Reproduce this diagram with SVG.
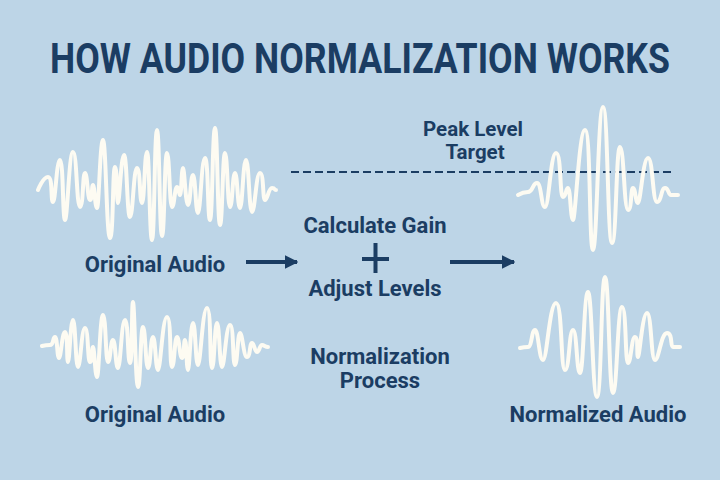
<svg xmlns="http://www.w3.org/2000/svg" width="720" height="480" viewBox="0 0 720 480">
<defs>
<style>
.t{font-family:Roboto,"Liberation Sans",sans-serif;font-weight:700;fill:#1b3d63;text-anchor:middle}
.lbl{font-size:22px}
.sm{font-size:20.5px}
.wave{fill:none;stroke:#fdfbf2;stroke-width:4;stroke-linecap:round;stroke-linejoin:round}
.ln{stroke:#1b3d63;stroke-width:4;fill:none}
</style>
<marker id="ah" viewBox="0 0 10 10" refX="9" refY="5" markerWidth="3.4" markerHeight="4.2" orient="auto" markerUnits="strokeWidth">
<path d="M0 0 L10 5 L0 10 Z" fill="#1b3d63"/>
</marker>
</defs>
<rect width="720" height="480" fill="#bdd5e7"/>
<text class="t" transform="translate(360,73) scale(0.8,1)" x="0" y="0" font-size="43" textLength="775" lengthAdjust="spacingAndGlyphs">HOW AUDIO NORMALIZATION WORKS</text>

<g id="original-top">
<path class="wave" d="M38 190 S43 177 48 177 S50.5 202 53 202 S56.5 160 60 160 S62.5 220 65 220 S69 152 73 152 S76.5 207 80 207 S82.5 173 85 173 S87.5 200 90 200 S91.5 185 93 185 S95 208 97 208 S100 140 103 140 S106.5 238 110 238 S112.5 167 115 167 S116.5 203 118 203 S121 155 124 155 S127 217 130 217 S133.5 168 137 168 S139.5 203 142 203 S144.5 152 147 152 S149.5 240 152 240 S154.5 130 157 130 S159.5 236 162 236 S164.5 153 167 153 S169.5 207 172 207 S174.5 187 177 187 S178.5 195 180 195 S181.5 168 183 168 S185.5 205 188 205 S190.5 175 193 175 S195.5 213 198 213 S201.5 158 205 158 S207.5 220 210 220 S212.5 128 215 128 S217.5 225 220 225 S222.5 153 225 153 S227.5 207 230 207 S232.5 173 235 173 S237.5 208 240 208 S243 160 246 160 S249 212 252 212 S256 173 260 173 S262.5 200 265 200 S268.5 188 272 188 S274 190 276 190"/>
<text class="t lbl" x="155" y="272">Original Audio</text>
</g>

<g id="original-bottom">
<path class="wave" d="M42 346 S46 345 50 345 S52.5 337 55 337 S57 358 59 358 S62 332 65 332 S66.5 362 68 362 S70.5 320 73 320 S75.5 367 78 367 S81.5 328 85 328 S87.5 362 90 362 S91.5 347 93 347 S95 377 97 377 S100 315 103 315 S105.5 362 108 362 S110.5 340 113 340 S115.5 368 118 368 S121.5 320 125 320 S127.5 363 130 363 S131.5 302 133 302 S135.5 387 138 387 S140.5 327 143 327 S145.5 368 148 368 S150.5 337 153 337 S155.5 370 158 370 S162.5 317 167 317 S169.5 367 172 367 S174.5 337 177 337 S179.5 358 182 358 S183.5 340 185 340 S186.5 370 188 370 S190.5 323 193 323 S195.5 365 198 365 S202.5 308 207 308 S209.5 368 212 368 S214.5 323 217 323 S219.5 367 222 367 S226 325 230 325 S232.5 365 235 365 S237.5 333 240 333 S243.5 357 247 357 S249.5 343 252 343 S254.5 352 257 352 S259.5 345 262 345 S265 347 268 347"/>
<text class="t lbl" x="155" y="422">Original Audio</text>
</g>

<g id="process">
<text class="t lbl" x="375" y="233">Calculate Gain</text>
<path class="ln" d="M362 259 H389 M375.5 243 V273"/>
<text class="t lbl" x="375" y="296">Adjust Levels</text>
<text class="t lbl" x="380" y="364">Normalization</text>
<text class="t lbl" x="380" y="388">Process</text>
</g>

<g id="peak-target">
<text class="t sm" x="473" y="136">Peak Level</text>
<text class="t sm" x="475" y="159">Target</text>
<line x1="291" y1="172" x2="673" y2="172" stroke="#1b3d63" stroke-width="2.2" stroke-dasharray="8 4"/>
</g>

<g id="normalized-top">
<path class="wave" d="M518 195 S523 192 528 192 S532.5 183 537 183 S541 207 545 207 S550.5 153 556 153 S559.5 197 563 197 S565.5 188 568 188 S570.5 220 573 220 S579 130 585 130 S589 250 593 250 S598 107 603 107 S607.5 243 612 243 S616 147 620 147 S624 210 628 210 S630.5 188 633 188 S635.5 203 638 203 S643 158 648 158 S652.5 202 657 202 S661 188 665 188 S668 195 671 195 S674.5 195 678 195"/>
</g>

<g id="normalized-bottom">
<path class="wave" d="M520 348 S524 347 528 347 S531.5 330 535 330 S539 360 543 360 S549.5 303 556 303 S560.5 370 565 370 S569 330 573 330 S576.5 373 580 373 S584 292 588 292 S592.5 397 597 397 S601 277 605 277 S609 393 613 393 S617.5 307 622 307 S625 363 628 363 S631.5 337 635 337 S636.5 357 638 357 S642.5 313 647 313 S651 360 655 360 S661 333 667 333 S670 347 673 347 S676.5 347 680 347"/>
<text class="t lbl" x="598" y="422">Normalized Audio</text>
</g>

<g id="connectors">
<line class="ln" x1="246" y1="262" x2="297" y2="262" marker-end="url(#ah)"/>
<line class="ln" x1="450" y1="262" x2="514" y2="262" marker-end="url(#ah)"/>
</g>
</svg>
